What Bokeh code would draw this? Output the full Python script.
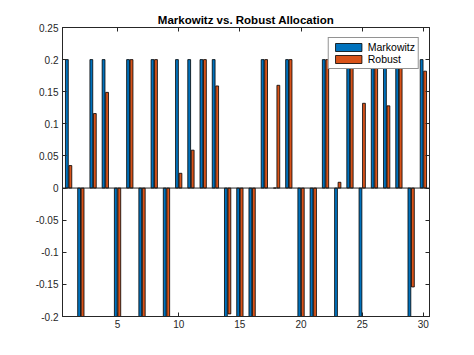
from bokeh.plotting import figure
from bokeh.models import ColumnDataSource, FixedTicker, Span, LinearAxis, Legend, LegendItem, Range1d
from bokeh.transform import dodge
from bokeh.embed import file_html
from bokeh.resources import INLINE

assets = list(range(1, 31))
markowitz = [0.2, -0.2, 0.2, 0.2, -0.2, 0.2, -0.2, 0.2, -0.2, 0.2,
             0.2, 0.2, 0.2, -0.2, -0.2, -0.2, 0.2, 0.0, 0.2, -0.2,
             -0.2, 0.2, -0.2, 0.2, -0.2, 0.2, 0.2, 0.2, -0.2, 0.2]
robust = [0.035, -0.2, 0.116, 0.149, -0.2, 0.2, -0.2, 0.2, -0.2, 0.023,
          0.059, 0.2, 0.159, -0.196, -0.2, -0.2, 0.2, 0.16, 0.2, -0.2,
          -0.2, 0.2, 0.009, 0.2, 0.132, 0.2, 0.128, 0.2, -0.154, 0.182]
x_ticks = [5, 10, 15, 20, 25, 30]
y_ticks = [-0.2, -0.15, -0.1, -0.05, 0, 0.05, 0.1, 0.15, 0.2, 0.25]
y_labels = ["-0.2", "-0.15", "-0.1", "-0.05", "0", "0.05", "0.1", "0.15", "0.2", "0.25"]

src = ColumnDataSource(dict(asset=assets, markowitz=markowitz, robust=robust))

FONT = "Liberation Sans"
AX = "#262626"

p = figure(width=458, height=339, output_backend="svg", toolbar_location=None,
           x_range=Range1d(0.5, 30.5), y_range=Range1d(-0.2, 0.25),
           min_border_left=62, min_border_right=29, min_border_top=27, min_border_bottom=23)
p.title.text = "Markowitz vs. Robust Allocation"
p.title.align = "center"
p.title.text_font = FONT
p.title.text_font_size = "11.5px"
p.title.text_font_style = "bold"
p.title.text_color = "black"
p.title.standoff = 4
p.xgrid.visible = False
p.ygrid.visible = False
p.outline_line_color = AX
p.outline_line_width = 1
p.background_fill_color = "white"
p.border_fill_color = "white"

r1 = p.vbar(x=dodge("asset", -0.143, range=p.x_range), top="markowitz", width=0.23,
            source=src, fill_color="#0072BD", line_color="black", line_width=0.8)
r2 = p.vbar(x=dodge("asset", 0.143, range=p.x_range), top="robust", width=0.23,
            source=src, fill_color="#D95319", line_color="black", line_width=0.8)

p.add_layout(Span(location=0, dimension="width", line_color=AX, line_width=1))

def style(ax, labels=True):
    ax.axis_line_color = AX
    ax.major_tick_line_color = AX
    ax.major_tick_in = 4
    ax.major_tick_out = 0
    ax.minor_tick_line_color = None
    ax.major_label_text_font = FONT
    ax.major_label_text_font_size = "10px"
    ax.major_label_text_color = AX
    if not labels:
        ax.major_label_text_font_size = "0px"
        ax.major_label_text_color = None

p.xaxis.ticker = FixedTicker(ticks=x_ticks)
p.yaxis.ticker = FixedTicker(ticks=y_ticks)
p.yaxis.major_label_overrides = {t: l for t, l in zip(y_ticks, y_labels)}
style(p.xaxis[0])
style(p.yaxis[0])
p.xaxis.major_label_standoff = 3
p.yaxis.major_label_standoff = 4

ax_top = LinearAxis(ticker=FixedTicker(ticks=x_ticks))
ax_right = LinearAxis(ticker=FixedTicker(ticks=y_ticks))
style(ax_top, labels=False)
style(ax_right, labels=False)
p.add_layout(ax_top, "above")
p.add_layout(ax_right, "right")

legend = Legend(items=[LegendItem(label="Markowitz", renderers=[r1]),
                       LegendItem(label="Robust", renderers=[r2])],
                location="top_right")
legend.margin = 10
legend.padding = 3
legend.spacing = 0
legend.glyph_width = 33
legend.glyph_height = 10
legend.label_standoff = 3
legend.label_height = 10
legend.label_text_font = FONT
legend.label_text_font_size = "10.5px"
legend.label_text_color = "black"
legend.border_line_color = AX
legend.border_line_width = 1
legend.background_fill_alpha = 1
p.add_layout(legend, "center")

open("out.html", "w").write(file_html(p, INLINE))
